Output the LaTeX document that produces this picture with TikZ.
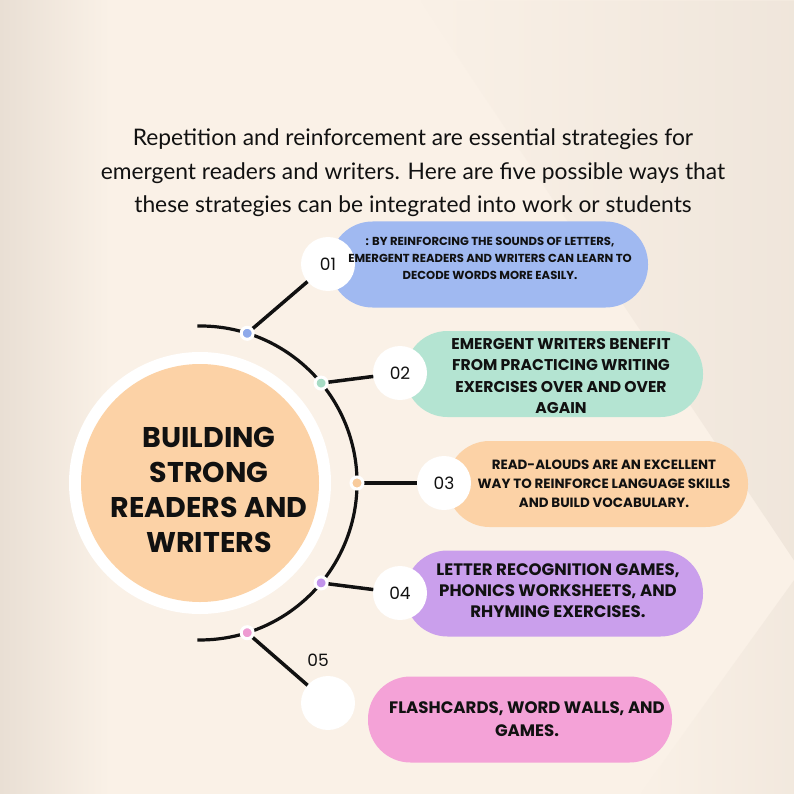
\documentclass[tikz,border=0pt]{standalone}
\usepackage{fontspec}
\setmainfont{Lato}
\newfontfamily\pop{Poppins}
\usetikzlibrary{fadings}
\definecolor{bgc}{HTML}{FAF1E7}
\definecolor{bgdark}{HTML}{E9DFD4}
\definecolor{pblue}{HTML}{A0B9F1}
\definecolor{pgreen}{HTML}{B4E4D2}
\definecolor{ppeach}{HTML}{FCD2A6}
\definecolor{ppurple}{HTML}{CA9FEC}
\definecolor{ppink}{HTML}{F4A2D7}
\definecolor{dblue}{HTML}{8EA9EA}
\definecolor{dgreen}{HTML}{A6DBC4}
\definecolor{dpeach}{HTML}{F8CB9C}
\definecolor{dpurple}{HTML}{C193EA}
\definecolor{dpink}{HTML}{EE9BD2}
\definecolor{ink}{HTML}{111111}
\pgfdeclarelayer{bgl}
\pgfdeclarelayer{links}
\pgfsetlayers{bgl,links,main}
\begin{document}
\begin{tikzpicture}[x=1pt,y=-1pt,
  pill/.style={rounded corners=42.5pt, minimum height=86pt, inner sep=0pt},
  numc/.style={circle, fill=white, minimum size=54pt, inner sep=0pt, text=ink, font=\pop\fontsize{17}{20}\selectfont},
  dotn/.style={circle, draw=white, line width=3pt, minimum size=12pt, inner sep=0pt},
  ptext/.style={align=center, text=ink, inner sep=0pt},
  link/.style={line width=3.5pt, ink},
]
\useasboundingbox (0,0) rectangle (794,794);
\begin{pgfonlayer}{bgl}
  \fill[bgc] (0,0) rectangle (794,794);
  \shade[left color=bgdark, right color=bgc] (0,0) rectangle (110,794);
  \fill[bgdark, opacity=0.6, path fading=west] (420,0) -- (794,0) -- (794,560) -- cycle;
  \fill[bgdark, opacity=0.45, path fading=west] (640,794) -- (794,794) -- (794,580) -- cycle;
\end{pgfonlayer}

% top text
\node[align=center, text=ink, font=\fontsize{22.8}{33.5}\selectfont] (intro) at (413,173)
  {Repetition and reinforcement are essential strategies for\\
   emergent readers and writers. Here are five possible ways that\\
   these strategies can be integrated into work or students};

% central circle
\node[circle, fill=white, minimum size=262pt, inner sep=0pt] (outer) at (200,483) {};
\node[circle, fill=ppeach, minimum size=238pt, inner sep=0pt] (inner) at (200,483) {};
\node[ptext, font=\pop\bfseries\fontsize{28.5}{34.7}\selectfont] (title) at (209,490)
  {BUILDING\\STRONG\\READERS AND\\WRITERS};

% pills
\node[pill, fill=pblue, minimum width=318pt] (p1) at (489,264.5) {};
\node[pill, fill=pgreen, minimum width=298pt] (p2) at (554,374) {};
\node[pill, fill=ppeach, minimum width=301pt] (p3) at (597.5,484) {};
\node[pill, fill=ppurple, minimum width=298pt] (p4) at (554,593.5) {};
\node[pill, fill=ppink, minimum width=304pt] (p5) at (520,719.5) {};

% number circles
\node[numc] (c1) at (328,264) {01};
\node[numc] (c2) at (400,373) {02};
\node[numc] (c3) at (444,483) {03};
\node[numc] (c4) at (400,593) {04};
\node[numc] (c5) at (328,703) {};
\node[text=ink, font=\pop\fontsize{17}{20}\selectfont] (n5) at (318,660) {05};

% dots on arc
\coordinate (arcS) at (197.3,326);
\node[dotn, fill=dblue] (d1) at (247.2,333.3) {};
\node[dotn, fill=dgreen] (d2) at (321.1,383.1) {};
\node[dotn, fill=dpeach] (d3) at (357,483) {};
\node[dotn, fill=dpurple] (d4) at (321.1,582.9) {};
\node[dotn, fill=dpink] (d5) at (247.2,632.7) {};

\begin{pgfonlayer}{links}
  \draw[line width=3.2pt, ink] (arcS) arc[start angle=-91, end angle=91, radius=157];
  \draw[link] (d1.center) -- (c1.center);
  \draw[link] (d2.center) -- (c2.center);
  \draw[link] (d3.center) -- (c3.center);
  \draw[link] (d4.center) -- (c4.center);
  \draw[link] (d5.center) -- (c5.center);
\end{pgfonlayer}

% pill texts
\node[ptext, font=\pop\bfseries\fontsize{11.6}{17}\selectfont] (t1) at (490,258)
  {: BY REINFORCING THE SOUNDS OF LETTERS,\\EMERGENT READERS AND WRITERS CAN LEARN TO\\DECODE WORDS MORE EASILY.};
\node[ptext, font=\pop\bfseries\fontsize{15.6}{21.5}\selectfont] (t2) at (561,376)
  {EMERGENT WRITERS BENEFIT\\FROM PRACTICING WRITING\\EXERCISES OVER AND OVER\\AGAIN};
\node[ptext, font=\pop\bfseries\fontsize{13.4}{19}\selectfont] (t3) at (604,484)
  {READ-ALOUDS ARE AN EXCELLENT\\WAY TO REINFORCE LANGUAGE SKILLS\\AND BUILD VOCABULARY.};
\node[ptext, font=\pop\bfseries\fontsize{16.6}{21}\selectfont] (t4) at (558,591)
  {LETTER RECOGNITION GAMES,\\PHONICS WORKSHEETS, AND\\RHYMING EXERCISES.};
\node[ptext, font=\pop\bfseries\fontsize{16.6}{22.5}\selectfont] (t5) at (527,719)
  {FLASHCARDS, WORD WALLS, AND\\GAMES.};
\end{tikzpicture}
\end{document}
